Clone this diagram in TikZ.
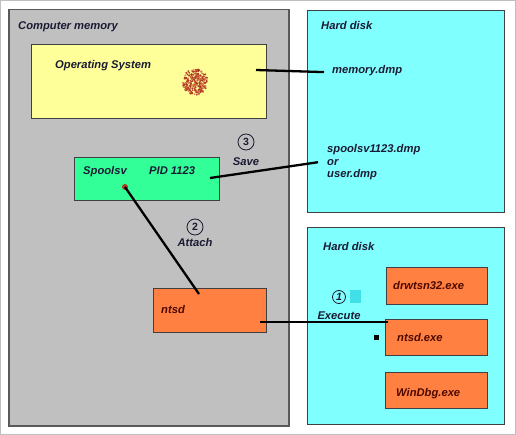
\documentclass[tikz,border=0pt]{standalone}
\usepackage{fontspec}
\setmainfont{Liberation Sans}
\usetikzlibrary{calc}
\definecolor{memgray}{HTML}{C0C0C0}
\definecolor{osyellow}{HTML}{FFFF99}
\definecolor{spoolgreen}{HTML}{33FF99}
\definecolor{diskcyan}{HTML}{80FFFF}
\definecolor{patchcyan}{HTML}{40E0E8}
\definecolor{exeorange}{HTML}{FF8040}
\definecolor{ink}{HTML}{1A1A33}
\definecolor{exeink}{HTML}{4D0A00}
\definecolor{blobred}{HTML}{B03A22}
\definecolor{blobtan}{HTML}{D8875A}
\def\areanode{\node[draw=black!75,line width=1pt,inner sep=0pt,anchor=north west]}
\def\lbl{\node[anchor=base west,inner sep=0pt,text=ink]}
\begin{document}
\begin{tikzpicture}[x=1pt,y=-1pt,
  every node/.style={font=\fontsize{11.2}{13}\selectfont\bfseries\itshape},
  wire/.style={line width=2.3pt,black},
  stepno/.style={circle,draw=ink,line width=0.8pt,inner sep=1pt,minimum size=16pt,text=ink,font=\fontsize{10.5}{12}\selectfont\bfseries}]
\useasboundingbox (0,0) rectangle (516,435);
\draw[black!25] (0.5,0.5) rectangle (515.5,434.5);

\areanode[fill=memgray,draw=black!65,line width=1.5pt,minimum width=280pt,minimum height=416pt] (mem) at (8,9) {};
\lbl at (18,30) {Computer memory};
\areanode[fill=osyellow,minimum width=235pt,minimum height=74pt] (os) at (31,44) {};
\lbl at (55,69) {Operating System};
\coordinate (blob) at (195,82);
\pgfmathsetseed{7}
\foreach \i in {1,...,260} {
  \pgfmathsetmacro\rr{13*sqrt(rnd)}
  \pgfmathsetmacro\aa{360*rnd}
  \pgfmathparse{mod(\i,3)==0 ? "blobtan" : "blobred"}
  \fill[\pgfmathresult] ($(blob)+(\aa:\rr)$) circle (1pt);
}
\areanode[fill=spoolgreen,minimum width=145pt,minimum height=43pt] (spool) at (74,157) {};
\lbl at (83,175) {Spoolsv};
\lbl at (149,175) {PID 1123};
\fill[blobred] (125,187) circle (3pt) coordinate (spooldot);
\areanode[fill=exeorange,minimum width=113pt,minimum height=44pt] (ntsd) at (153,288) {};
\lbl[text=exeink] at (161,313) {ntsd};

\areanode[fill=diskcyan,minimum width=197pt,minimum height=202pt] (disk1) at (307,10) {};
\lbl at (321,30) {Hard disk};
\lbl (memdmp) at (332,74) {memory.dmp};
\node[anchor=north west,inner sep=0pt,text=ink,align=left,
  font=\fontsize{11.2}{12.8}\selectfont\bfseries\itshape] (spooldmp) at (327,144) {spoolsv1123.dmp\\or\\user.dmp};

\areanode[fill=diskcyan,minimum width=197pt,minimum height=197pt] (disk2) at (307,227) {};
\lbl at (323,251) {Hard disk};
\areanode[fill=exeorange,minimum width=101pt,minimum height=37pt] (drwtsn) at (386,267) {};
\lbl[text=exeink] at (393,290) {drwtsn32.exe};
\areanode[fill=exeorange,minimum width=102pt,minimum height=36pt] (ntsdexe) at (385,319) {};
\lbl[text=exeink] at (397,341) {ntsd.exe};
\areanode[fill=exeorange,minimum width=102pt,minimum height=36pt] (windbg) at (385,372) {};
\lbl[text=exeink] at (396,396) {WinDbg.exe};

\fill[patchcyan] (350,290) rectangle (361,303);
\node[stepno,minimum size=13pt] (one) at (339,297) {\itshape 1};
\node[anchor=base,inner sep=0pt,text=ink] (exec) at (339,319) {Execute};
\fill[black] (374,335) rectangle (379,340);
\node[stepno] (two) at (195,227) {2};
\node[anchor=base,inner sep=0pt,text=ink] (attach) at (195,247) {Attach};
\node[stepno] (three) at (246,142) {3};
\node[anchor=base,inner sep=0pt,text=ink] (save) at (246,166) {Save};

\coordinate (osport) at (256,70);
\coordinate (spoolport) at (210,178);
\coordinate (ntsdin) at (199,294);
\coordinate (ntsdport) at (260,322);
\draw[wire] (osport) -- ([xshift=-8pt,yshift=-1pt]memdmp.west);
\draw[wire] (spoolport) -- ([xshift=-9pt]spooldmp.west);
\draw[wire] (spooldot) -- (ntsdin);
\draw[wire] (ntsdport) -- (ntsdport -| ntsdexe.west) -- ++(3,0);
\end{tikzpicture}
\end{document}
